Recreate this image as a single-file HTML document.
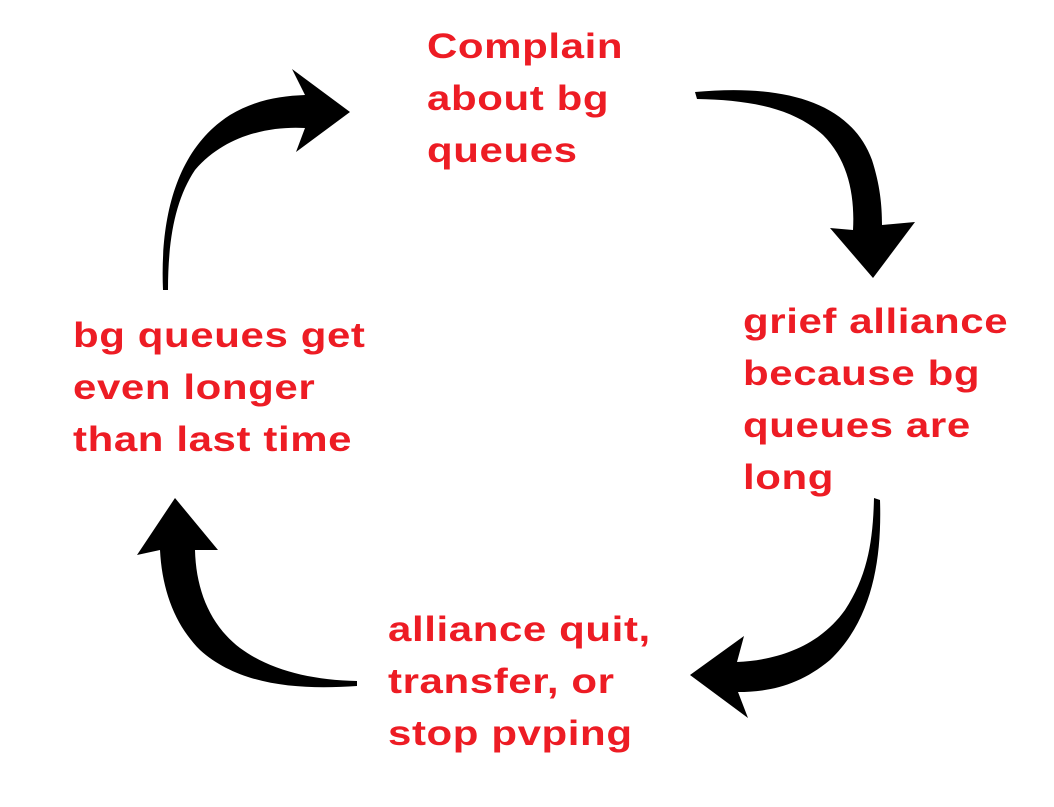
<!DOCTYPE html>
<html><head><style>
html,body{margin:0;padding:0;background:#fff;width:1054px;height:807px;overflow:hidden;position:relative}
.t{position:absolute;font-family:"Liberation Sans",Arial,sans-serif;font-weight:bold;color:#ed1c24;font-size:35px;line-height:52px;white-space:nowrap;letter-spacing:0.5px;transform:scaleX(1.2);transform-origin:0 0}
svg{position:absolute;left:0;top:0}
</style></head><body>
<svg width="1054" height="807" viewBox="0 0 1054 807">
<path d="M163,290 C160,220 175,150 230,115 C255,100 280,96 305,95 L292,69 L350,112 L296,152 L305,128 C270,126 225,135 195,170 C175,200 168,240 168,290 Z" fill="#000"/>
<path d="M695,92 C780,84 850,100 872,160 C880,185 882,205 882,225 L915,222 L873,278 L830,228 L853,230 C855,195 848,160 823,135 C793,108 750,100 697,99 Z" fill="#000"/>
<path d="M874,498 L880,500 C882,560 872,620 830,660 C800,685 770,692 738,692 L748,718 L690,675 L744,636 L737,662 C780,660 820,645 845,610 C868,575 873,540 874,498 Z" fill="#000"/>
<path d="M357,686 C300,690 240,686 200,650 C175,625 162,590 160,550 L137,555 L175,498 L218,550 L195,550 C196,590 210,625 240,648 C270,670 310,680 357,681 Z" fill="#000"/>
</svg>
<div class="t" style="left:427px;top:21px">Complain<br>about bg<br>queues</div>
<div class="t" style="left:743px;top:296px">grief alliance<br>because bg<br>queues are<br>long</div>
<div class="t" style="left:73px;top:310px">bg queues get<br>even longer<br>than last time</div>
<div class="t" style="left:388px;top:604px">alliance quit,<br>transfer, or<br>stop pvping</div>
</body></html>
